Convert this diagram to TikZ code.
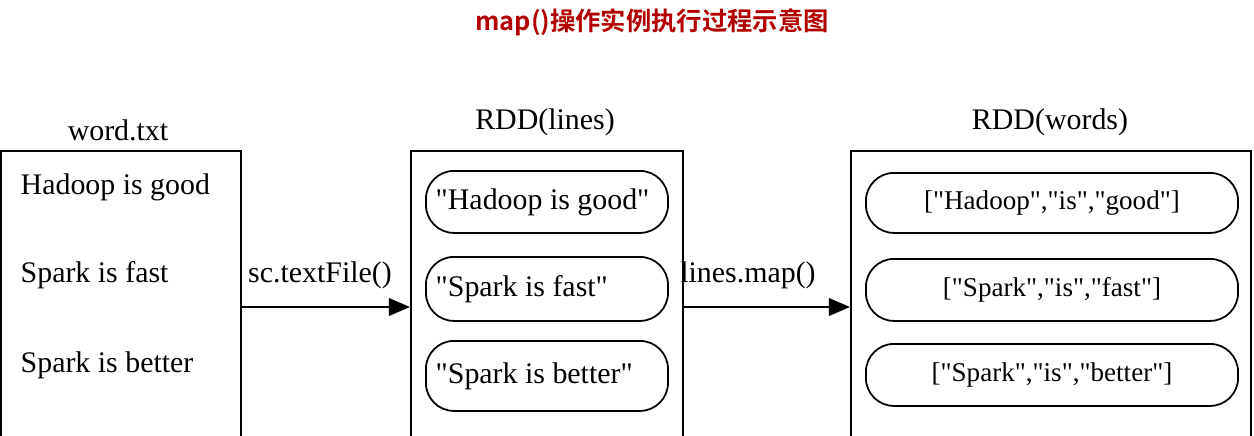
\documentclass[tikz,border=0pt]{standalone}
\usepackage{fontspec}
\setmainfont{Liberation Serif}[Ligatures=TeXReset]
\newfontfamily\cjk{Noto Sans CJK SC Bold}
\usetikzlibrary{arrows.meta}
\begin{document}
\begin{tikzpicture}[x=0.01cm,y=-0.01cm,
  outer/.style={draw,line width=0.5pt,minimum width=#1,minimum height=3.0cm,anchor=north west,inner sep=0},
  inner/.style={draw,line width=0.5pt,rounded corners=8pt,anchor=north west,inner sep=0,minimum height=0.62cm},
  txt/.style={font=\fontsize{8.5pt}{10pt}\selectfont,inner sep=0},
  wtxt/.style={font=\fontsize{7.7pt}{9pt}\selectfont,inner sep=0},
  arr/.style={-{Triangle[length=6pt,width=5pt]},line width=0.5pt}]
\useasboundingbox (0,0) rectangle (1254,435);
\clip (0,0) rectangle (1254,435);
\node[font=\cjk\fontsize{7.2pt}{9pt}\selectfont,text=red!70!black] (title) at (652,22) {map()操作实例执行过程示意图};
% boxes
\node[outer=2.40cm] (b1) at (0,150) {};
\node[outer=2.72cm] (b2) at (410,150) {};
\node[outer=4.00cm] (b3) at (850,150) {};
\node[txt] (l1) at (118,130) {word.txt};
\node[txt] (l2) at (545,122) {RDD(lines)};
\node[txt] (l3) at (1050,122) {RDD(words)};
\node[txt,anchor=west] (t1) at (20,187) {Hadoop is good};
\node[txt,anchor=west] (t2) at (20,275) {Spark is fast};
\node[txt,anchor=west] (t3) at (20,365) {Spark is better};
% RDD lines
\node[inner,minimum width=2.42cm] (r1) at (425,170) {};
\node[inner,minimum width=2.42cm,minimum height=0.64cm] (r2) at (425,256) {};
\node[inner,minimum width=2.42cm,minimum height=0.70cm] (r3) at (425,340) {};
\node[txt,anchor=west] at ([xshift=0.1cm]r1.west) {"Hadoop is good"};
\node[txt,anchor=west] at ([xshift=0.1cm]r2.west) {"Spark is fast"};
\node[txt,anchor=west] at ([xshift=0.1cm]r3.west) {"Spark is better"};
% RDD words
\node[inner,minimum width=3.72cm,minimum height=0.60cm] (w1) at (865,172) {};
\node[inner,minimum width=3.72cm] (w2) at (865,258) {};
\node[inner,minimum width=3.72cm] (w3) at (865,343) {};
\node[wtxt] at (w1) {["Hadoop","is","good"]};
\node[wtxt] at (w2) {["Spark","is","fast"]};
\node[wtxt] at (w3) {["Spark","is","better"]};
% arrows
\coordinate (a1s) at (240,307); \coordinate (a1e) at (410,307);
\coordinate (a2s) at (682,307); \coordinate (a2e) at (850,307);
\draw[arr] (a1s) -- (a1e);
\draw[arr] (a2s) -- (a2e);
\node[txt] (f1) at (320,275) {sc.textFile()};
\node[txt] (f2) at (748,275) {lines.map()};
\end{tikzpicture}
\end{document}
